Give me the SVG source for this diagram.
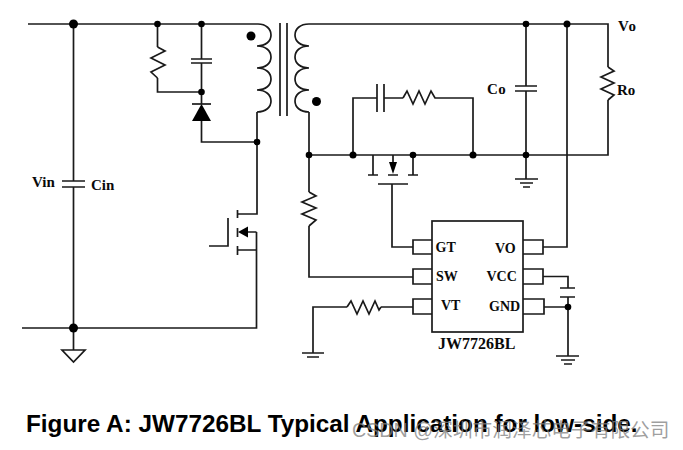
<svg xmlns="http://www.w3.org/2000/svg" width="683" height="450" viewBox="0 0 683 450">
<style>
.w{fill:none;stroke:#1a1a1a;stroke-width:1.7;stroke-linejoin:miter}
.d{fill:#000}
.l{font-family:"Liberation Serif","Times New Roman",serif;font-weight:bold;font-size:15px;fill:#0a0a0a}
.p{font-size:14px}
</style>
<rect width="683" height="450" fill="#fff"/>
<g id="connectors" class="w">
<path d="M28 24H258"/>
<path d="M73.500 24V181M73.500 187V350M22 328H256.500V232"/>
<path d="M157.500 24V47M157.500 78V92H201.500M201.500 24V59M201.500 63V104M201.500 121V142H257"/>
<path d="M257 112V214H238M256.500 232H247M256.500 250H238"/>
<path d="M309 24H608V67M608 100V155H309M309 112V192M309 226V277H413"/>
<path d="M353 155V98H377M384 98H403M438 98H473V155"/>
<path d="M373 155V175M393 155V162M413 155V175"/>
<path d="M392 184V247H413"/>
<path d="M526 24V86M526 91V179"/>
<path d="M567 24V247H543"/>
<path d="M543 276.500H568V288M568 297V356M544 307H568"/>
<path d="M413 307H381M347 307H313V353"/>
</g>
<g id="primary-coil" class="w"><path d="M258 24C266 24 271 29 271 35C271 41 266 46 257 46C266 46 271 51 271 57C271 63 266 68 257 68C266 68 271 73 271 79C271 85 266 90 257 90C266 90 271 95 271 101C271 107 266 112 257 112"/><circle class="d" cx="251" cy="36" r="4.500" stroke="none"/></g>
<g id="core" class="w"><path d="M280 23V116M287 23V116"/></g>
<g id="secondary-coil" class="w"><path d="M309 24C300 24 295 29 295 35C295 41 300 46 309 46C300 46 295 51 295 57C295 63 300 68 309 68C300 68 295 73 295 79C295 85 300 90 309 90C300 90 295 95 295 101C295 107 300 112 309 112"/><circle class="d" cx="316.500" cy="101.500" r="4.500" stroke="none"/></g>
<g id="r-snub-primary" class="w"><path d="M157.500 47L165 51L151 58L165 65L151 72L157.500 78"/></g>
<g id="c-snub-primary" class="w"><path d="M191 59H212M191 63H212"/></g>
<g id="diode"><path class="w" d="M192 104H211"/><path class="d" d="M201.500 104L192 121H211Z"/></g>
<g id="q-primary" class="w"><path d="M237.500 210V218M237.500 228V237M237.500 246V255M228 218V246H209"/><path class="d" stroke="none" d="M238 232L248 226.500V237.500Z"/></g>
<g id="cin" class="w"><path d="M62 181H85M62 187H85"/></g>
<g id="gnd-in" class="w"><path d="M62 350H85L73.500 362Z"/></g>
<g id="q-sync" class="w"><path d="M368 175H378M388 175H398M408 175H418M378 184H408"/><path class="d" stroke="none" d="M393 174L389 162H397Z"/></g>
<g id="c-snub-secondary" class="w"><path d="M377 84V112M384 84V112"/></g>
<g id="r-snub-secondary" class="w"><path d="M403 98L407 91L413 104L419 91L425 104L431 91L435 98H438"/></g>
<g id="co" class="w"><path d="M515 86H537M515 91H537"/></g>
<g id="ro" class="w"><path d="M608 67L614 71L601 77L614 83L601 89L614 95L608 100"/></g>
<g id="gnd-out" class="w"><path d="M515 179H538M520 183H533M523 187H530"/></g>
<g id="r-sw" class="w"><path d="M309 192L316 196L302 202L316 208L302 214L316 220L309 226"/></g>
<g id="r-vt" class="w"><path d="M347 307L351 301L357 314L363 301L369 314L375 301L379 310L381 307"/></g>
<g id="gnd-vt" class="w"><path d="M302 353H324M307 357H319"/></g>
<g id="ic" class="w"><rect x="432" y="221" width="91" height="111"/><path d="M432 240H413V254H432M432 269H413V284H432M432 299H413V314H432M523 240H543V254H523M523 269H543V284H523M523 299H544V314H523"/></g>
<g id="c-vcc" class="w"><path d="M560 288H575M560 297H575"/></g>
<g id="gnd-ic" class="w"><path d="M556 356H579M561 360H575M564 364H572"/></g>
<g id="junctions" class="d">
<circle cx="73.500" cy="24" r="4.500"/><circle cx="157.500" cy="24" r="3.300"/><circle cx="201.500" cy="24" r="3.300"/><circle cx="201.500" cy="92" r="3.300"/><circle cx="257" cy="142" r="3.300"/>
<circle cx="73.500" cy="328" r="4.500"/><circle cx="309" cy="155" r="3.300"/><circle cx="353" cy="155" r="3.500"/><circle cx="413" cy="155" r="3.300"/><circle cx="473" cy="155" r="3.500"/><circle cx="526" cy="24" r="3.300"/><circle cx="567" cy="24" r="3.500"/><circle cx="526" cy="155" r="3.300"/><circle cx="568" cy="307" r="3.300"/>
</g>
<g id="labels">
<text class="l" x="618" y="31" letter-spacing="1">Vo</text><text class="l" x="617" y="95">Ro</text><text class="l" x="487" y="94" letter-spacing=".5">Co</text><text class="l" x="32" y="187">Vin</text><text class="l" x="91" y="190">Cin</text>
<text class="l p" x="435.500" y="252">GT</text><text class="l p" x="436" y="281">SW</text><text class="l p" x="441" y="310">VT</text><text class="l p" x="495" y="253">VO</text><text class="l p" x="486.500" y="281">VCC</text><text class="l p" x="489" y="311">GND</text><text class="l" style="font-size:16px" x="438" y="349">JW7726BL</text>
</g>
<text x="26" y="432" style="font-family:'Liberation Sans',Arial,sans-serif;font-weight:bold;font-size:24.300px;fill:#000">Figure A: JW7726BL Typical Application for low-side.</text>
<text x="352" y="437" style="font-family:'Liberation Sans','Noto Sans CJK SC',sans-serif;font-size:19.700px;fill:#808080;fill-opacity:.75">CSDN @深圳市润泽芯电子有限公司</text>
</svg>
